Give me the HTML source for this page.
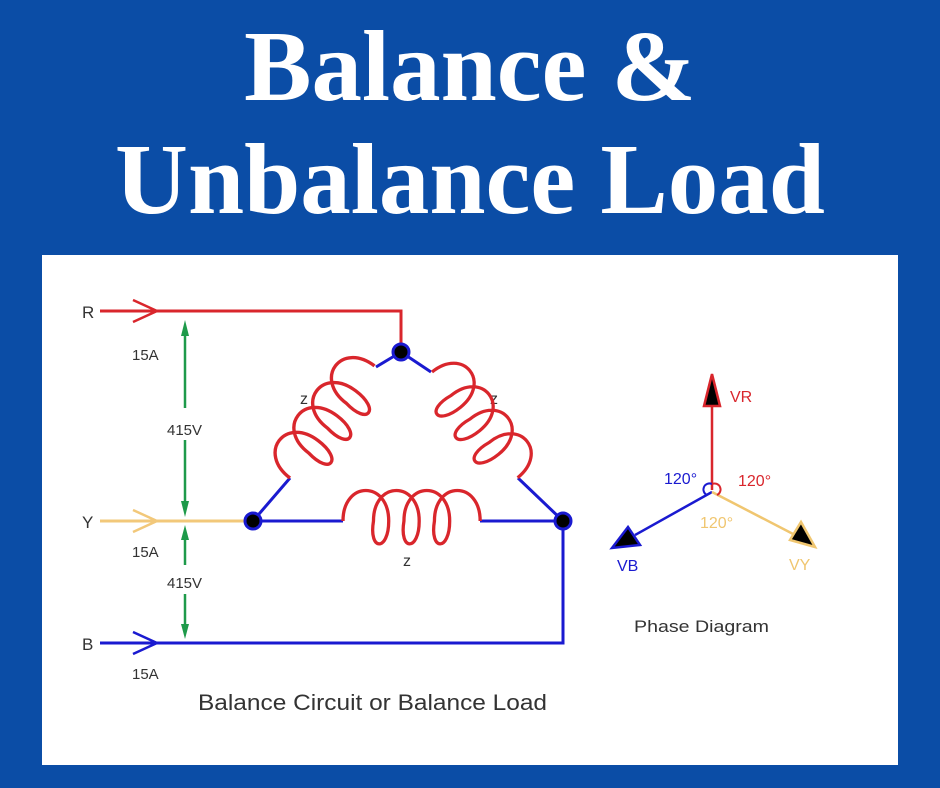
<!DOCTYPE html>
<html><head><meta charset="utf-8"><style>
html,body{margin:0;padding:0}
body{width:940px;height:788px;background:#0b4da6;position:relative;overflow:hidden;font-family:"Liberation Sans",sans-serif}
.t{position:absolute;left:0;width:940px;text-align:center;color:#fff;font-family:"Liberation Serif",serif;font-weight:bold;font-size:101px;line-height:1}
</style></head><body>
<div class="t" style="top:16px">Balance &amp;</div>
<div class="t" style="top:129px">Unbalance Load</div>
<svg style="position:absolute;left:0;top:0" width="940" height="788" viewBox="0 0 940 788">
<defs>
<path id="coil" d="M0,0 C0,-32 36,-32 36,0 C36,24 20,24 24,0 C24,-32 60,-32 60,0 C60,24 44,24 48,0 C48,-32 84,-32 84,0 C84,24 68,24 72,0 C72,-32 108,-32 108,0" fill="none" stroke="#d9262c" stroke-width="2.6"/>
</defs>
<rect x="42" y="255" width="856" height="510" fill="#fff"/>
<g font-family="Liberation Sans, sans-serif" font-size="17" fill="#333">
<text x="82" y="318">R</text><text x="82" y="528">Y</text><text x="82" y="650">B</text>
<text x="132" y="360" font-size="15">15A</text><text x="132" y="557" font-size="15">15A</text><text x="132" y="679" font-size="15">15A</text>
<text x="167" y="435" font-size="15">415V</text><text x="167" y="588" font-size="15">415V</text>
<text x="300" y="404" font-size="16">z</text><text x="490" y="404" font-size="16">z</text><text x="403" y="566" font-size="16">z</text>
<text x="198" y="710" font-size="22" textLength="349" lengthAdjust="spacingAndGlyphs">Balance Circuit or Balance Load</text>
<text x="634" y="632" font-size="17" textLength="135" lengthAdjust="spacingAndGlyphs">Phase Diagram</text>
</g>
<polyline points="100,311 401,311 401,352" fill="none" stroke="#d9262c" stroke-width="3"/>
<polyline points="133,300 157,311 133,322" fill="none" stroke="#d9262c" stroke-width="2.5"/>
<line x1="100" y1="521" x2="253" y2="521" stroke="#f2c87a" stroke-width="3"/>
<polyline points="133,510 157,521 133,532" fill="none" stroke="#f2c87a" stroke-width="2.5"/>
<polyline points="100,643 563,643 563,521" fill="none" stroke="#1a1ad0" stroke-width="3"/>
<polyline points="133,632 157,643 133,654" fill="none" stroke="#1a1ad0" stroke-width="2.5"/>
<g stroke="#1e9a4a" stroke-width="2.5" fill="#1e9a4a">
<line x1="185" y1="328" x2="185" y2="408"/><line x1="185" y1="440" x2="185" y2="508"/>
<line x1="185" y1="535" x2="185" y2="565"/><line x1="185" y1="594" x2="185" y2="632"/>
<polygon points="185,320 181,336 189,336" stroke="none"/>
<polygon points="185,517 181,501 189,501" stroke="none"/>
<polygon points="185,525 181,540 189,540" stroke="none"/>
<polygon points="185,639 181,624 189,624" stroke="none"/>
</g>
<g stroke="#1a1ad0" stroke-width="3" fill="none">
<line x1="401" y1="352" x2="376" y2="367"/><line x1="401" y1="352" x2="431" y2="372"/>
<line x1="253" y1="521" x2="290" y2="478"/><line x1="563" y1="521" x2="518" y2="478"/>
<line x1="253" y1="521" x2="343" y2="521"/><line x1="480" y1="521" x2="563" y2="521"/>
</g>
<use href="#coil" transform="translate(290,478) rotate(-53) scale(1.3)"/>
<use href="#coil" transform="translate(432,372) rotate(51) scale(1.26)"/>
<use href="#coil" transform="translate(343,521) scale(1.27)"/>
<g fill="#000" stroke="#1a1ad0" stroke-width="3">
<circle cx="401" cy="352" r="8"/><circle cx="253" cy="521" r="8"/><circle cx="563" cy="521" r="8"/>
</g>
<line x1="712" y1="490" x2="712" y2="400" stroke="#d9262c" stroke-width="2.5"/>
<polygon points="712,374 704,406 720,406" fill="#000" stroke="#d9262c" stroke-width="2.5"/>
<line x1="712" y1="492" x2="635" y2="535" stroke="#1a1ad0" stroke-width="2.5"/>
<polygon points="612,548 628,527 640,545" fill="#000" stroke="#1a1ad0" stroke-width="2.5"/>
<line x1="712" y1="492" x2="795" y2="535" stroke="#f0c670" stroke-width="2.5"/>
<polygon points="815,547 790,540 801,522" fill="#000" stroke="#f0c670" stroke-width="2.5"/>
<path d="M712,484 A6,6 0 1 0 707,495" fill="none" stroke="#1a1ad0" stroke-width="2"/>
<path d="M712,484 A6,6 0 0 1 717,495" fill="none" stroke="#d9262c" stroke-width="2"/>
<g font-family="Liberation Sans, sans-serif" font-size="16">
<text x="730" y="402" fill="#d9262c">VR</text>
<text x="664" y="484" fill="#1a1ad0">120°</text>
<text x="738" y="486" fill="#d9262c">120°</text>
<text x="700" y="528" fill="#f0c670">120°</text>
<text x="617" y="571" fill="#1a1ad0">VB</text>
<text x="789" y="570" fill="#f0c670">VY</text>
</g>
</svg>
</body></html>
